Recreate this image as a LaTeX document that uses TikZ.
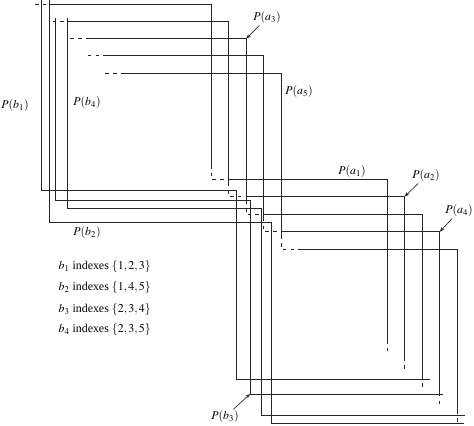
\documentclass[tikz,border=0pt]{standalone}
\usepackage{mathptmx}
\usepackage[no-math]{fontspec}
\setmainfont{Liberation Serif}
\usetikzlibrary{arrows.meta}
\begin{document}
\begin{tikzpicture}[x=0.84pt, y=-0.84pt, line width=0.7pt, draw=black!85,
  ghost/.style={dash pattern=on 3pt off 3.5pt},
  lbl/.style={inner sep=1pt},
  pointer/.style={-{Stealth[length=4pt,width=3pt]}, line width=0.55pt}]
  \useasboundingbox (0,0) rectangle (474,426);
  % the five a paths, each shifted by one step
  \foreach \i in {0,...,4} {
    \pgfmathsetmacro\xs{35+17.6*\i}
    \pgfmathsetmacro\xt{211+17.6*\i}
    \pgfmathsetmacro\yt{4+17.3*\i}
    \pgfmathsetmacro\ym{179+17.6*\i}
    \pgfmathsetmacro\xr{387+17.6*\i}
    \pgfmathsetmacro\yb{354+17.6*\i}
    \coordinate (atop\i) at (\xt,\yt);
    \coordinate (amid\i) at (\xr,\ym);
    \draw [ghost] (\xs,\yt) -- (\xs+17,\yt);
    \draw (\xs+17,\yt) -- (atop\i) -- (\xt,\ym-14);
    \draw [ghost] (\xt,\ym-14) -- (\xt,\ym) -- (\xt+17,\ym);
    \draw (\xt+17,\ym) -- (amid\i) -- (\xr,\yb-14);
    \draw [ghost] (\xr,\yb-14) -- (\xr,\yb);
  }
  % the four b paths
  \draw (41,0) -- (41,190) -- (236,190) -- (236,379) -- (430,379);
  \draw (49,0) -- (49,222) -- (271,222) -- (271,423) -- (464,423);
  \draw (55,18) -- (55,200) -- (250,200) -- (250,394) -- (443,394);
  \draw (67,18) -- (67,208) -- (261,208) -- (261,415) -- (465,415);
  \coordinate (bcorner) at (250,394);
  % labels
  \node [lbl] (pa1) at (352,172) {$P(a_1)$};
  \node [lbl] (pa2) at (426,176) {$P(a_2)$};
  \node [lbl] (pa3) at (267,18) {$P(a_3)$};
  \node [lbl] (pa4) at (459,211) {$P(a_4)$};
  \node [lbl] (pa5) at (299,92) {$P(a_5)$};
  \node [lbl] (pb1) at (15,106) {$P(b_1)$};
  \node [lbl] (pb2) at (87,233) {$P(b_2)$};
  \node [lbl] (pb3) at (225,417) {$P(b_3)$};
  \node [lbl] (pb4) at (87,103) {$P(b_4)$};
  \draw [pointer] (pa3) -- (atop2);
  \draw [pointer] (pa2) -- (amid1);
  \draw [pointer] (pa4) -- (amid3);
  \draw [pointer] (pb3) -- (bcorner);
  % which indexes each b uses
  \node [lbl, anchor=west] (idx1) at (57,267) {$b_1$ indexes $\{1,2,3\}$};
  \node [lbl, anchor=west] (idx2) at (57,288) {$b_2$ indexes $\{1,4,5\}$};
  \node [lbl, anchor=west] (idx3) at (57,310) {$b_3$ indexes $\{2,3,4\}$};
  \node [lbl, anchor=west] (idx4) at (57,330) {$b_4$ indexes $\{2,3,5\}$};
\end{tikzpicture}
\end{document}
